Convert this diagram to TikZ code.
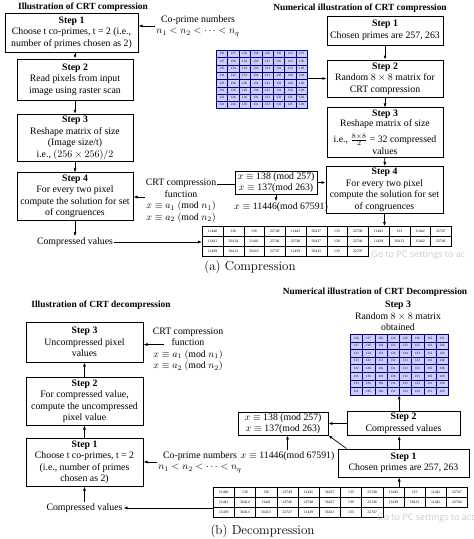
\documentclass[tikz,border=0pt]{standalone}
\usepackage{fontspec}
\setmainfont{Liberation Serif}
\newfontfamily\wmfont{Open Sans}
\usetikzlibrary{arrows.meta}

\newcommand\pixrows{{136,137,136,136,136,136,133,131},{137,136,134,135,135,135,133,136},{135,134,133,133,134,133,133,129},{133,132,131,132,133,132,136,130},{132,136,136,131,132,132,136,138},{131,136,129,136,132,131,136,129},{133,136,136,131,133,133,131,130},{131,136,136,131,133,133,131,129}}
\newcommand\crtrows{{11446,136,136,22749,11445,56417,133,22748,11443,133,11442,22747},{11441,56414,11441,22746,22748,56417,130,22746,11439,56413,11442,22746},{11439,56413,56413,22747,11439,56413,133,22747}}

\begin{document}
\begin{tikzpicture}[x=1pt,y=-1pt,every node/.style={inner sep=1pt},
  stepbox/.style={draw,line width=1pt,align=center,inner sep=2pt,font=\fontsize{9.8}{11.5}\selectfont},
  eqbox/.style={draw,line width=0.8pt,align=center,inner sep=1.5pt,font=\fontsize{9.8}{11}\selectfont},
  txt/.style={align=center,font=\fontsize{9.8}{11.5}\selectfont},
  ttl/.style={font=\fontsize{9.4}{11}\selectfont\bfseries},
  captxt/.style={font=\fontfamily{lmr}\fontsize{13}{15}\selectfont},
  wm/.style={anchor=west,text=gray!40,font=\wmfont\fontsize{9}{10}\selectfont},
  arr/.style={-{Latex[length=4pt,width=3pt]},line width=0.7pt},
  pix/.style={draw=blue!50!black,fill=blue!20,line width=0.3pt,anchor=north west,inner sep=0,font=\fontsize{3.3}{3.3}\selectfont},
  tcell/.style={draw,line width=0.4pt,anchor=north west,inner sep=0,font=\fontsize{3.8}{4}\selectfont}]
\useasboundingbox (0,0) rectangle (474,539);

% (a) compression, left side
\node[ttl] (tA) at (83,7) {Illustration of CRT compression};
\node[stepbox,minimum width=133pt,minimum height=39pt] (s1) at (71.5,32.5)
  {\textbf{Step 1}\\Choose t co-primes, t = 2 (i.e.,\\number of primes chosen as 2)};
\node[stepbox,minimum width=116pt,minimum height=41pt] (s2) at (75,79.5)
  {\textbf{Step 2}\\Read pixels from input\\image using raster scan};
\node[stepbox,minimum width=116pt,minimum height=46pt] (s3) at (75,138)
  {\textbf{Step 3}\\Reshape matrix of size\\(Image size/t)\\i.e., $(256\times 256)/2$};
\node[stepbox,minimum width=116pt,minimum height=47pt] (s4) at (75,196.5)
  {\textbf{Step 4}\\For every two pixel\\compute the solution for set\\of congruences};
\node[txt] (cop) at (198,26) {Co-prime numbers\\$n_1<n_2<\cdots<n_q$};
\node[txt] (crt) at (181,201) {CRT compression\\function\\$x\equiv a_1\ (\mathrm{mod}\ n_1)$\\$x\equiv a_2\ (\mathrm{mod}\ n_2)$};
\node[txt] (cv) at (75,242) {Compressed values};

\draw[arr] (cop.west) -- (cop.west -| s1.east);
\draw[arr] (s2.north |- s1.south) -- (s2.north);
\draw[arr] (s2) -- (s3);
\draw[arr] (s3) -- (s4);
\draw[arr] ([yshift=4pt]crt.west) -- ([yshift=4pt]crt.west -| s4.east);
\draw[arr] (s4) -- (cv);

% (a) compression, numerical side
\node[ttl] (tB) at (360,8) {Numerical illustration of CRT compression};
\node[stepbox,minimum width=116pt,minimum height=29pt] (r1) at (385,30.5)
  {\textbf{Step 1}\\Chosen primes are 257, 263};
\node[stepbox,minimum width=116pt,minimum height=37pt] (r2) at (385,78.5)
  {\textbf{Step 2}\\Random $8\times 8$ matrix for\\CRT compression};
\node[stepbox,minimum width=116pt,minimum height=49pt,font=\fontsize{9.8}{10.5}\selectfont] (r3) at (385,132.5)
  {\textbf{Step 3}\\Reshape matrix of size\\[4pt]i.e.,\;$\frac{8\times 8}{2}$ = 32 compressed\\[2pt]values};
\node[stepbox,minimum width=117pt,minimum height=44pt] (r4) at (384.5,190)
  {\textbf{Step 4}\\For every two pixel\\compute the solution for set\\of congruences};
\node[eqbox,minimum width=82pt,minimum height=23pt] (eqA) at (276,182.5)
  {$x\equiv$ 138 (mod 257)\\$x\equiv$ 137(mod 263)};
\node[txt] (solA) at (281,207) {$x\equiv$ 11446(mod 67591)};

\foreach \row [count=\rw from 0] in \pixrows
  \foreach \v [count=\cl from 0] in \row
    \node[pix,minimum width=11.4pt,minimum height=7.3pt] (ma-\rw-\cl) at (216+\cl*11.4,50+\rw*7.3) {\v};
\node[inner sep=0,minimum width=91.2pt,minimum height=58.4pt,anchor=north west] (matA) at (216,50) {};

\foreach \row [count=\rw from 0] in \crtrows
  \foreach \v [count=\cl from 0] in \row
    \node[tcell,minimum width=20.75pt,minimum height=10pt] (ta-\rw-\cl) at (202+\cl*20.75,226+\rw*10) {\v};
\node[inner sep=0,minimum width=249pt,minimum height=30pt,anchor=north west] (tabA) at (202,226) {};

\coordinate (crtl) at ([yshift=-6pt]crt.north east);
\draw[line width=0.7pt] (crtl) -- (crtl -| eqA.west);
\draw[arr] (r1) -- (r2);
\draw[arr] (matA.east |- r2.west) -- (r2.west);
\draw[arr] (r2) -- (r3);
\draw[arr] (r3) -- (r4);
\draw[arr] (eqA.east) -- (eqA.east -| r4.west);
\draw[arr] (eqA.south) -- (eqA.south |- solA.north);
\draw[arr] (r4.south) -- (r4.south |- tabA.north);
\draw[arr] (cv.east) -- (cv.east -| tabA.west);

\node[captxt] (capA) at (250,267) {(a) Compression};
\node[wm] (wmA) at (370,255) {Go to PC settings to ac};

% (b) decompression, left side
\node[ttl] (tC) at (101,305) {Illustration of CRT decompression};
\node[stepbox,minimum width=117pt,minimum height=40pt] (d3) at (84.5,342)
  {\textbf{Step 3}\\Uncompressed pixel\\values};
\node[stepbox,minimum width=117pt,minimum height=47pt] (d2) at (84.5,401.5)
  {\textbf{Step 2}\\For compressed value,\\compute the uncompressed\\pixel value};
\node[stepbox,minimum width=117pt,minimum height=47pt] (d1) at (84.5,462.5)
  {\textbf{Step 1}\\Choose t co-primes, t = 2\\(i.e., number of primes\\chosen as 2)};
\node[txt] (crtB) at (188,349.5) {CRT compression\\function\\$x\equiv a_1\ (\mathrm{mod}\ n_1)$\\$x\equiv a_2\ (\mathrm{mod}\ n_2)$};
\node[txt] (copB) at (200,462) {Co-prime numbers\\$n_1<n_2<\cdots<n_q$};
\node[txt] (cvB) at (84.5,508) {Compressed values};

\coordinate (fB) at ([xshift=12pt,yshift=5pt]crtB.west);
\draw[arr] (fB) -- (fB -| d3.east);
\draw[arr] (d2) -- (d3);
\draw[arr] (d1) -- (d2);
\draw[arr] (copB.west) -- (copB.west -| d1.east);
\draw[arr] (cvB) -- (d1);

% (b) decompression, numerical side
\node[ttl] (tD) at (375,292) {Numerical illustration of CRT Decompression};
\node[txt] (m3) at (398,316) {\textbf{Step 3}\\Random $8\times 8$ matrix\\obtained};
\foreach \row [count=\rw from 0] in \pixrows
  \foreach \v [count=\cl from 0] in \row
    \node[pix,minimum width=12.25pt,minimum height=7.6pt] (mb-\rw-\cl) at (350+\cl*12.25,334+\rw*7.6) {\v};
\node[inner sep=0,minimum width=98pt,minimum height=60.8pt,anchor=north west] (matB) at (350,334) {};

\node[stepbox,minimum width=113pt,minimum height=23pt] (b2) at (403.5,423.5)
  {\textbf{Step 2}\\Compressed values};
\node[stepbox,minimum width=131pt,minimum height=28pt] (b1) at (403.5,463)
  {\textbf{Step 1}\\Chosen primes are 257, 263};
\node[eqbox,minimum width=90pt,minimum height=23pt] (eqB) at (283,423.5)
  {$x\equiv$ 138 (mod 257)\\$x\equiv$ 137(mod 263)};
\node[txt] (solB) at (287.5,456) {$x\equiv$ 11446(mod 67591)};

\foreach \row [count=\rw from 0] in \crtrows
  \foreach \v [count=\cl from 0] in \row
    \node[tcell,minimum width=21.2pt,minimum height=10pt] (tb-\rw-\cl) at (213+\cl*21.2,487+\rw*10) {\v};
\node[inner sep=0,minimum width=254pt,minimum height=30pt,anchor=north west] (tabB) at (213,487) {};

\draw[arr] (matB.south |- b2.north) -- (matB.south);
\draw[arr] (matB.south |- b1.north) -- (matB.south |- b2.south);
\draw[arr] (matB.south |- tabB.north) -- (matB.south |- b1.south);
\draw[arr] (b2.west) -- (eqB.east);
\draw[arr] ([xshift=9pt]b1.north west) -- (eqB.south east);
\draw[arr] (solB.north) -- (solB.north |- eqB.south);
\draw[arr] (tabB.west |- cvB) -- (cvB.east);

\node[captxt] (capB) at (262.5,531) {(b) Decompression};
\node[wm] (wmB) at (376,518) {Go to PC settings to act};
\end{tikzpicture}
\end{document}
